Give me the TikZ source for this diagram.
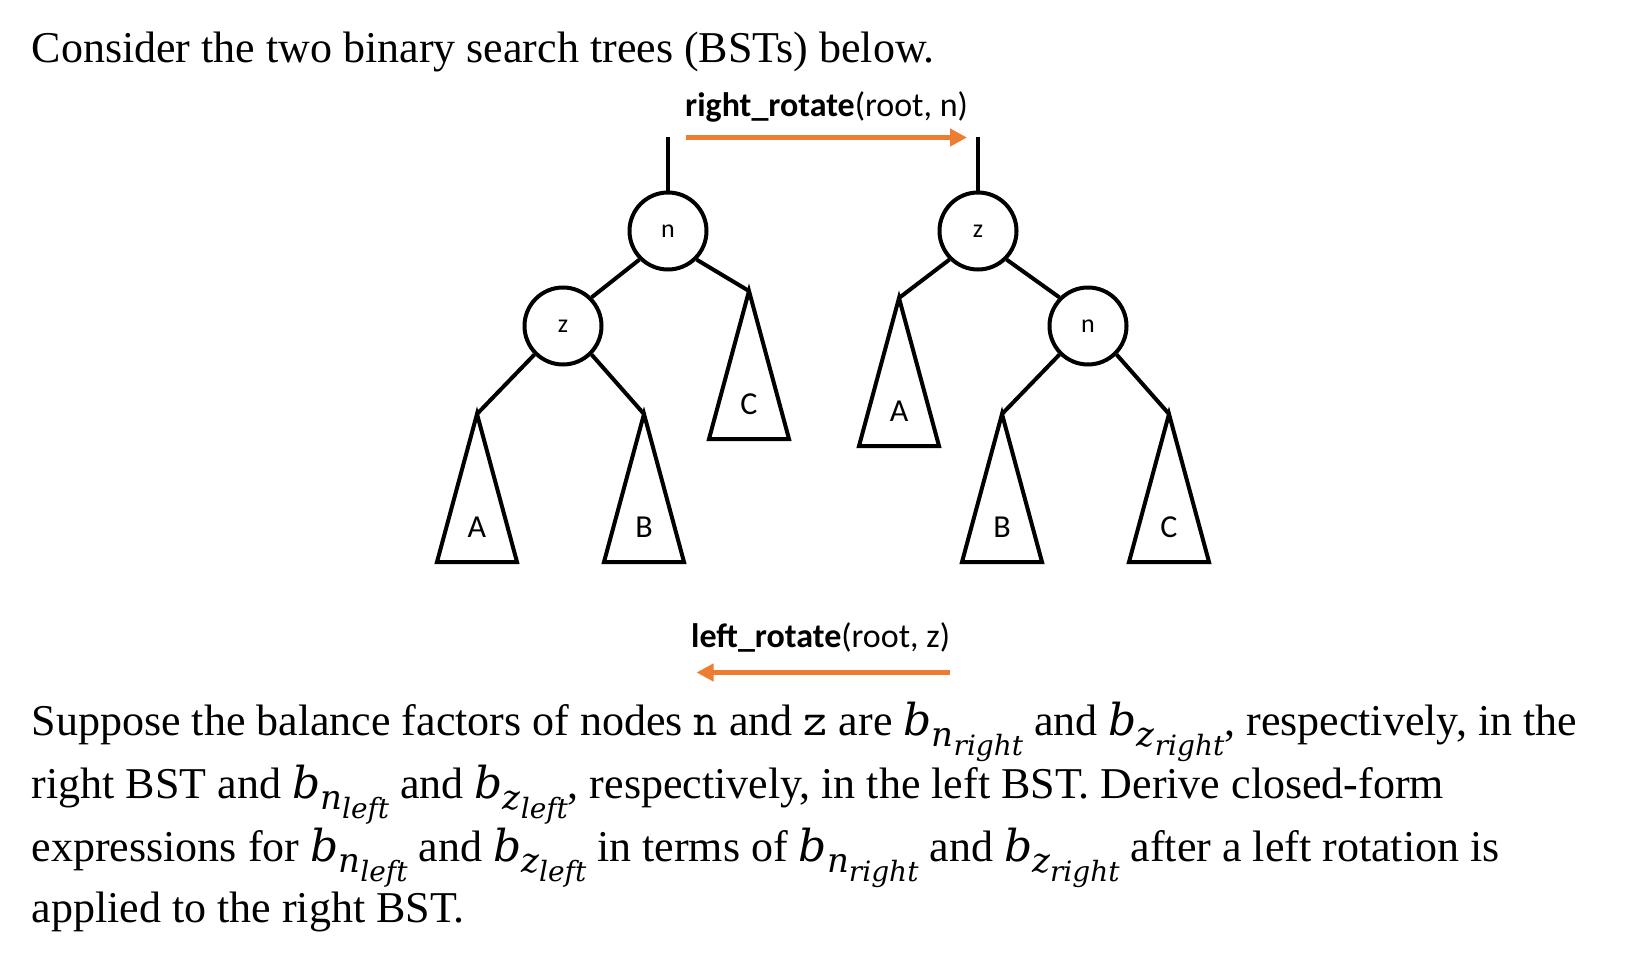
\documentclass[tikz,border=0pt]{standalone}
\usepackage{fontspec}
\setmainfont{Liberation Serif}
\newfontfamily\sansf{Carlito}
\newfontfamily\mathff{DejaVu Serif}
\usetikzlibrary{arrows.meta}
\definecolor{orng}{HTML}{ED7D31}
\newcommand\bv[2]{{\mathff\itshape\fontsize{44}{44}\selectfont b\raisebox{-11pt}{\fontsize{34}{34}\selectfont #1\raisebox{-9pt}{\fontsize{28}{28}\selectfont #2}}}}
\newcommand\code[1]{{\ttfamily\fontsize{47}{47}\selectfont #1}}
\begin{document}
\begin{tikzpicture}[x=1pt,y=-1pt,
  treenode/.style={circle,draw,line width=4pt,minimum size=77pt,inner sep=0pt,font=\sansf\fontsize{26}{26}\selectfont},
  edge/.style={line width=4pt},
  sublabel/.style={inner sep=0pt,font=\sansf\fontsize{32}{32}\selectfont},
  subtree/.style={line width=4pt,line join=miter},
  rotarrow/.style={draw=orng,line width=5pt,-{Triangle[length=17pt,width=17pt]}},
  oplabel/.style={anchor=base west,inner sep=0pt,font=\sansf\fontsize{34}{34}\selectfont},
  textline/.style={anchor=base west,inner sep=0pt,font=\fontsize{44}{52}\selectfont}
]
\fill[white] (0,0) rectangle (1652,974);
\useasboundingbox (0,0) rectangle (1652,974);

% texts
\node[textline] (title) at (31.5,63) {Consider the two binary search trees (BSTs) below.};
\node[textline] (p1) at (31.5,735) {Suppose the balance factors of nodes \code{n} and \code{z} are \bv{n}{right} and \bv{z}{right}, respectively, in the};
\node[textline] (p2) at (31.5,798) {right BST and \bv{n}{left} and \bv{z}{left}, respectively, in the left BST. Derive closed-form};
\node[textline] (p3) at (31.5,861) {expressions for \bv{n}{left} and \bv{z}{left} in terms of \bv{n}{right} and \bv{z}{right} after a left rotation is};
\node[textline] (p4) at (31.5,922) {applied to the right BST.};

% rotation arrows
\node[oplabel] (rr) at (685,117) {\textbf{right\_rotate}(root, n)};
\coordinate (rrs) at (686,137.5);
\coordinate (rre) at (967,137.5);
\draw[rotarrow] (rrs) -- (rre);
\node[oplabel] (lr) at (691,647) {\textbf{left\_rotate}(root, z)};
\coordinate (lrs) at (949.5,672.5);
\coordinate (lre) at (696.5,672.5);
\draw[rotarrow] (lrs) -- (lre);

% left tree
\coordinate (Lroot) at (668,137);
\node[treenode] (Ln) at (668,231) {n};
\node[treenode] (Lz) at (563,326) {z};
\coordinate (LA) at (477,414);
\coordinate (LB) at (644,414);
\coordinate (LC) at (749,291);
\draw[subtree] (LA) -- ++(-40,148) -- ++(80,0) -- cycle;
\draw[subtree] (LB) -- ++(-40,148) -- ++(80,0) -- cycle;
\draw[subtree] (LC) -- ++(-40,148) -- ++(80,0) -- cycle;
\node[sublabel] (LAl) at (477,527) {A};
\node[sublabel] (LBl) at (644,527) {B};
\node[sublabel] (LCl) at (749,404) {C};
\draw[edge] (Lroot) -- (Ln);
\draw[edge] (Ln.-135) -- (Lz.45);
\draw[edge] (Ln.-45) -- (LC);
\draw[edge] (Lz.-135) -- (LA);
\draw[edge] (Lz.-45) -- (LB);

% right tree
\coordinate (Rroot) at (978,137);
\node[treenode] (Rz) at (978,231) {z};
\node[treenode] (Rn) at (1088,326) {n};
\coordinate (RA) at (899,298);
\coordinate (RB) at (1002,414);
\coordinate (RC) at (1169,414);
\draw[subtree] (RA) -- ++(-40,148) -- ++(80,0) -- cycle;
\draw[subtree] (RB) -- ++(-40,148) -- ++(80,0) -- cycle;
\draw[subtree] (RC) -- ++(-40,148) -- ++(80,0) -- cycle;
\node[sublabel] (RAl) at (899,411) {A};
\node[sublabel] (RBl) at (1002,527) {B};
\node[sublabel] (RCl) at (1169,527) {C};
\draw[edge] (Rroot) -- (Rz);
\draw[edge] (Rz.-135) -- (RA);
\draw[edge] (Rz.-45) -- (Rn.135);
\draw[edge] (Rn.-135) -- (RB);
\draw[edge] (Rn.-45) -- (RC);
\end{tikzpicture}
\end{document}
